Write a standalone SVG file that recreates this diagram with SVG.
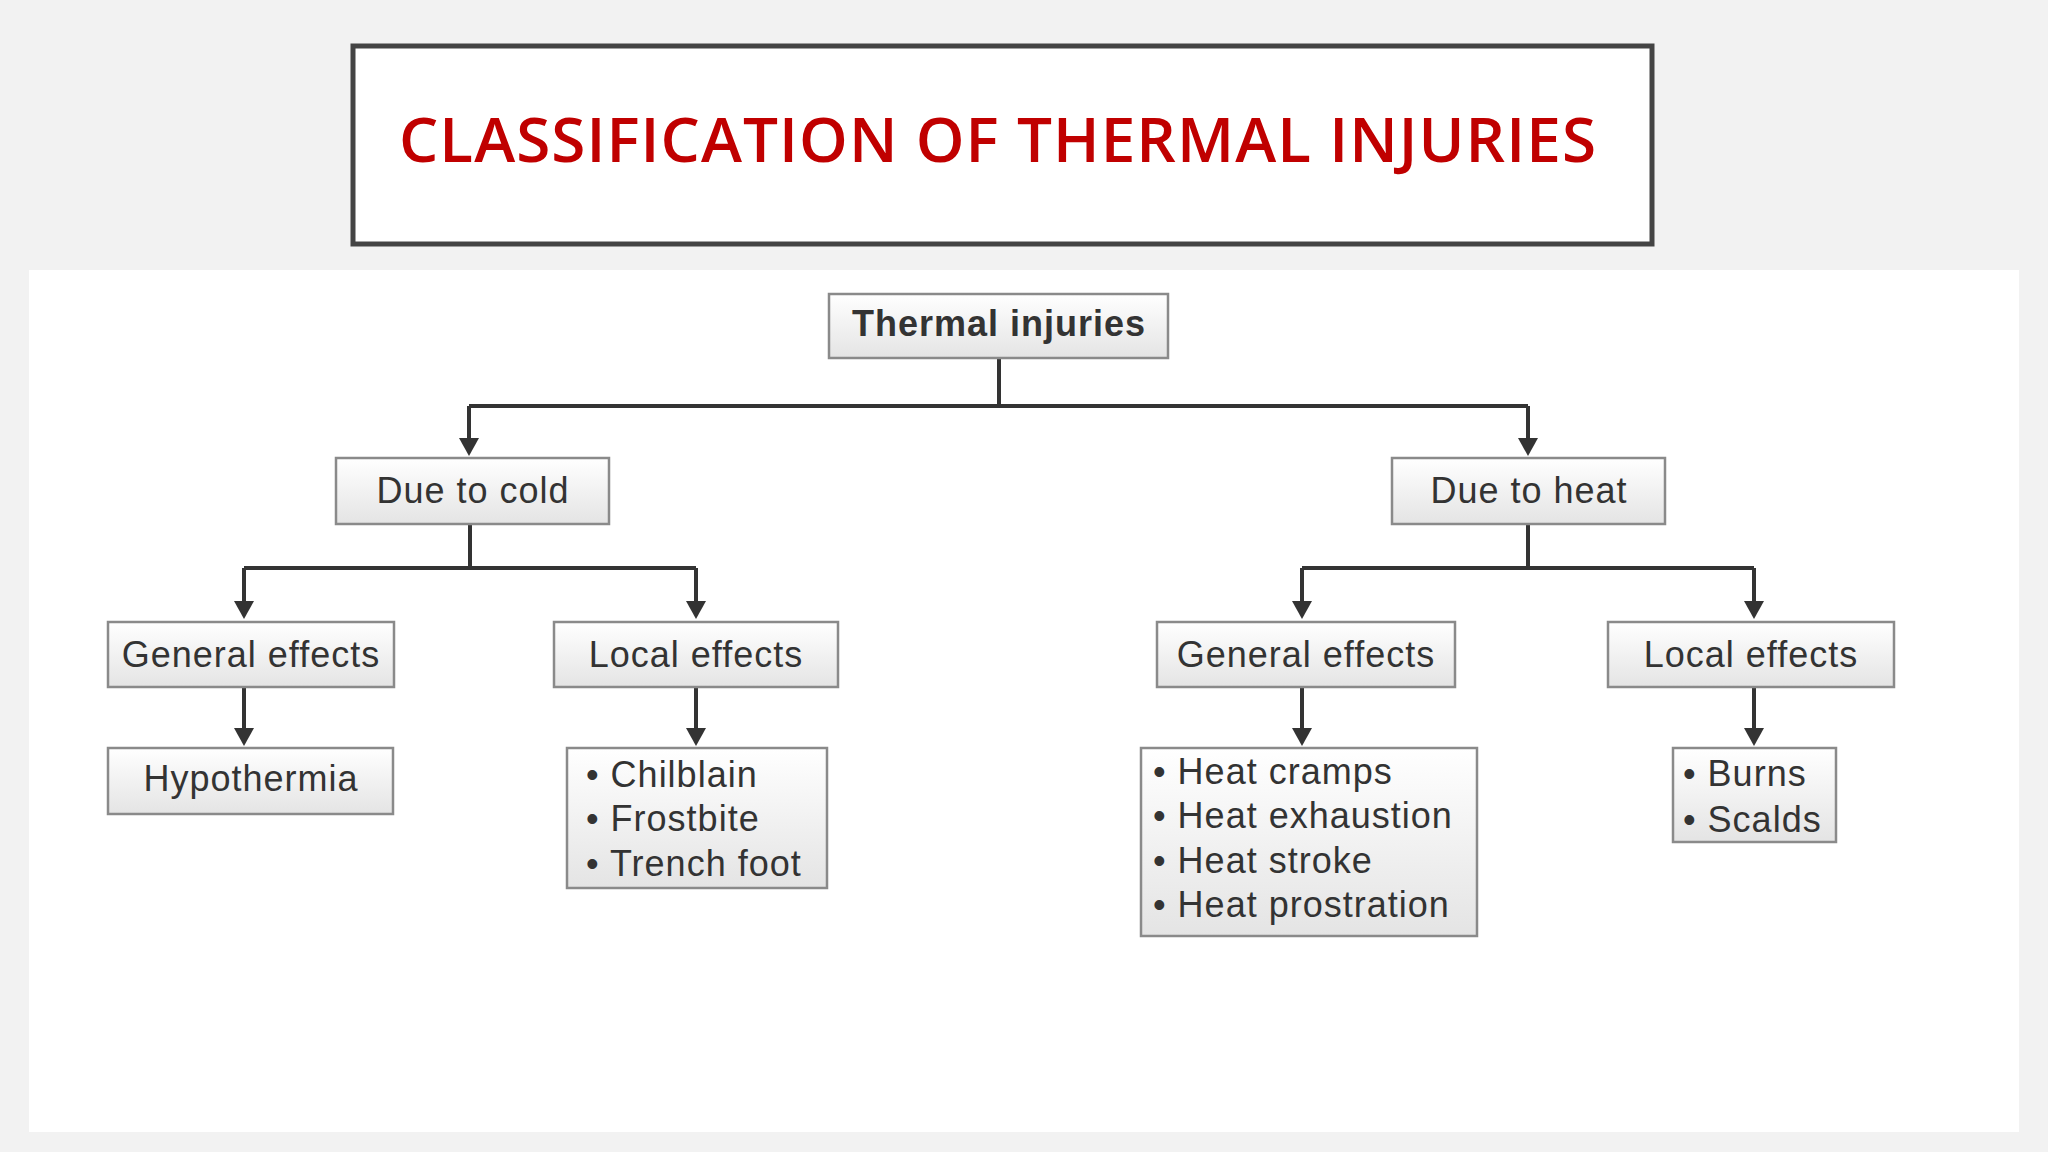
<svg xmlns="http://www.w3.org/2000/svg" width="2048" height="1152" viewBox="0 0 2048 1152">
<defs>
<linearGradient id="g" x1="0" y1="0" x2="0" y2="1"><stop offset="0" stop-color="#ffffff"/><stop offset="1" stop-color="#e4e4e4"/></linearGradient>
</defs>
<style>
.b{fill:url(#g);stroke:#8a8a8a;stroke-width:2.5}
.t{font-family:"Liberation Sans",Arial,sans-serif;font-size:36px;fill:#333;text-anchor:middle;letter-spacing:1px}
.l{font-family:"Liberation Sans",Arial,sans-serif;font-size:36px;fill:#333;letter-spacing:1px}
.c{fill:none;stroke:#333;stroke-width:4}
</style>
<rect width="2048" height="1152" fill="#f2f2f2"/>
<rect x="29" y="270" width="1990" height="862" fill="#ffffff"/>
<g id="title"><rect x="353" y="46" width="1299" height="198" fill="#fff" stroke="#444" stroke-width="5"/>
<text x="999" y="162" font-family="Open Sans,Liberation Sans,sans-serif" font-size="62" font-weight="600" fill="#c00000" text-anchor="middle" textLength="1200" letter-spacing="3">CLASSIFICATION OF THERMAL INJURIES</text></g>
<g id="connectors">
<path class="c" d="M999,358V406M469,406H1528M469,406V440M1528,406V440"/>
<path class="c" d="M470,524V568M244,568H696M244,568V605M696,568V605M1528,524V568M1302,568H1754M1302,568V605M1754,568V605"/>
<path class="c" d="M244,687V730M696,687V730M1302,687V730M1754,687V730"/>
<g fill="#333"><path d="M459,438h20l-10,18z"/><path d="M1518,438h20l-10,18z"/>
<path d="M234,601h20l-10,18z"/><path d="M686,601h20l-10,18z"/><path d="M1292,601h20l-10,18z"/><path d="M1744,601h20l-10,18z"/>
<path d="M234,728h20l-10,18z"/><path d="M686,728h20l-10,18z"/><path d="M1292,728h20l-10,18z"/><path d="M1744,728h20l-10,18z"/></g>
</g>
<g id="thermal"><rect class="b" x="829" y="294" width="339" height="64"/><text class="t" x="999" y="336" font-weight="bold" font-size="35">Thermal injuries</text></g>
<g id="cold"><rect class="b" x="336" y="458" width="273" height="66"/><text class="t" x="473" y="503">Due to cold</text></g>
<g id="heat"><rect class="b" x="1392" y="458" width="273" height="66"/><text class="t" x="1529" y="503">Due to heat</text></g>
<g id="cge"><rect class="b" x="108" y="622" width="286" height="65"/><text class="t" x="251" y="667">General effects</text></g>
<g id="cle"><rect class="b" x="554" y="622" width="284" height="65"/><text class="t" x="696" y="667">Local effects</text></g>
<g id="hge"><rect class="b" x="1157" y="622" width="298" height="65"/><text class="t" x="1306" y="667">General effects</text></g>
<g id="hle"><rect class="b" x="1608" y="622" width="286" height="65"/><text class="t" x="1751" y="667">Local effects</text></g>
<g id="hypo"><rect class="b" x="108" y="748" width="285" height="66"/><text class="t" x="251" y="791">Hypothermia</text></g>
<g id="clist"><rect class="b" x="567" y="748" width="260" height="140"/>
<text class="l" x="586" y="787">• Chilblain</text><text class="l" x="586" y="831">• Frostbite</text><text class="l" x="586" y="876">• Trench foot</text></g>
<g id="hlist"><rect class="b" x="1141" y="748" width="336" height="188"/>
<text class="l" x="1153" y="784">• Heat cramps</text><text class="l" x="1153" y="828">• Heat exhaustion</text><text class="l" x="1153" y="873">• Heat stroke</text><text class="l" x="1153" y="917">• Heat prostration</text></g>
<g id="blist"><rect class="b" x="1673" y="748" width="163" height="94"/>
<text class="l" x="1683" y="786">• Burns</text><text class="l" x="1683" y="832">• Scalds</text></g>
</svg>
